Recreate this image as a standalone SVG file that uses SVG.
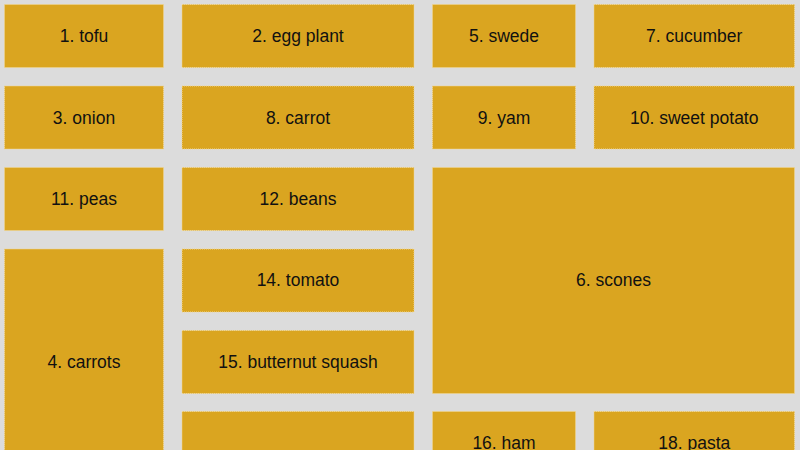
<svg xmlns="http://www.w3.org/2000/svg" width="800" height="450" viewBox="0 0 800 450">
<style>
.b{fill:#DAA520;stroke:#f2d68e;stroke-width:1;stroke-dasharray:1 1}
.t{font-family:"Liberation Sans",Arial,sans-serif;font-size:17.5px;fill:#111;text-anchor:middle}
</style>
<rect width="800" height="450" fill="#dcdcdc"/>
<g id="n1"><rect class="b" x="4.5" y="4.5" width="159" height="63"/><text class="t" x="84" y="42">1. tofu</text></g>
<g id="n2"><rect class="b" x="182" y="4.5" width="232" height="63"/><text class="t" x="298" y="42">2. egg plant</text></g>
<g id="n5"><rect class="b" x="432.5" y="4.5" width="143" height="63"/><text class="t" x="504" y="42">5. swede</text></g>
<g id="n7"><rect class="b" x="594" y="4.5" width="200.5" height="63"/><text class="t" x="694.25" y="42">7. cucumber</text></g>
<g id="n3"><rect class="b" x="4.5" y="86" width="159" height="63"/><text class="t" x="84" y="123.5">3. onion</text></g>
<g id="n8"><rect class="b" x="182" y="86" width="232" height="63"/><text class="t" x="298" y="123.5">8. carrot</text></g>
<g id="n9"><rect class="b" x="432.5" y="86" width="143" height="63"/><text class="t" x="504" y="123.5">9. yam</text></g>
<g id="n10"><rect class="b" x="594" y="86" width="200.5" height="63"/><text class="t" x="694.25" y="123.5">10. sweet potato</text></g>
<g id="n11"><rect class="b" x="4.5" y="167.5" width="159" height="63"/><text class="t" x="84" y="205">11. peas</text></g>
<g id="n12"><rect class="b" x="182" y="167.5" width="232" height="63"/><text class="t" x="298" y="205">12. beans</text></g>
<g id="n6"><rect class="b" x="432.5" y="167.5" width="362" height="226"/><text class="t" x="613.5" y="286">6. scones</text></g>
<g id="n4"><rect class="b" x="4.5" y="249" width="159" height="226"/><text class="t" x="84" y="367.5">4. carrots</text></g>
<g id="n14"><rect class="b" x="182" y="249" width="232" height="63"/><text class="t" x="298" y="286">14. tomato</text></g>
<g id="n15"><rect class="b" x="182" y="330.5" width="232" height="63"/><text class="t" x="298" y="367.5">15. butternut squash</text></g>
<g id="n_col2_row6"><rect class="b" x="182" y="411.5" width="232" height="144"/></g>
<g id="n16"><rect class="b" x="432.5" y="411.5" width="143" height="63"/><text class="t" x="504" y="449">16. ham</text></g>
<g id="n18"><rect class="b" x="594" y="411.5" width="200.5" height="63"/><text class="t" x="694.25" y="449">18. pasta</text></g>
<g id="connectors"></g>
</svg>
